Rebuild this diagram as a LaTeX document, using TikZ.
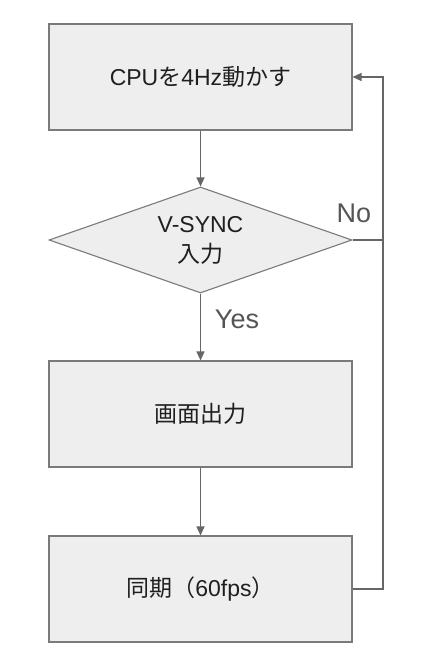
\documentclass[tikz,border=0pt]{standalone}
\usepackage{fontspec}
\setmainfont{Liberation Sans}
\newfontfamily\jp{Noto Sans CJK JP}
\usetikzlibrary{arrows.meta,shapes.geometric}

\definecolor{boxfill}{HTML}{EEEEEE}
\definecolor{boxline}{HTML}{7A7A7A}
\definecolor{arrowgray}{HTML}{666666}
\definecolor{labelgray}{HTML}{555555}

\tikzset{
	stepbox/.style={draw=boxline, fill=boxfill, line width=1.1pt, minimum width=303pt, minimum height=106pt, inner sep=0pt, font=\fontsize{23}{30}\selectfont, text=black!88},
	choice/.style={diamond, aspect=2.858, draw=boxline, fill=boxfill, line width=1.1pt, minimum width=303pt, minimum height=106pt, inner sep=0pt, align=center, font=\fontsize{23}{30}\selectfont, text=black!88},
	flow/.style={draw=arrowgray, line width=1.3pt, -{Triangle[length=9pt,width=8pt]}},
	branch/.style={text=labelgray, font=\fontsize{27}{30}\selectfont}
}

\begin{document}
\begin{tikzpicture}[x=1pt,y=-1pt]
			\useasboundingbox (0,0) rectangle (422,666);
			\node[stepbox]  at (200.5,77)   (cpu)   {CPU{\jp を}4Hz{\jp 動かす}};
			\node[choice]   at (200.5,240)  (vsync) {V-SYNC\\{\jp 入力}};
			\node[stepbox]  at (200.5,414)  (disp)  {{\jp 画面出力}};
			\node[stepbox]  at (200.5,589)  (sync)  {{\jp 同期（}60fps{\jp ）}};
			\coordinate     (loop) at (383,0);
			\draw[flow] (cpu) -- (vsync);
			\draw[flow] (vsync) -- (disp);
			\draw[flow] (disp) -- (sync);
			\draw[flow] (sync.east) -- (sync.east -| loop) |- (cpu.east);
			\draw[draw=arrowgray, line width=1.3pt] (vsync.east) -- (vsync.east -| loop);
			\node[branch]   at (354,213)    (no)    {No};
			\node[branch]   at (237,319)    (yes)   {Yes};
		\end{tikzpicture}
\end{document}
